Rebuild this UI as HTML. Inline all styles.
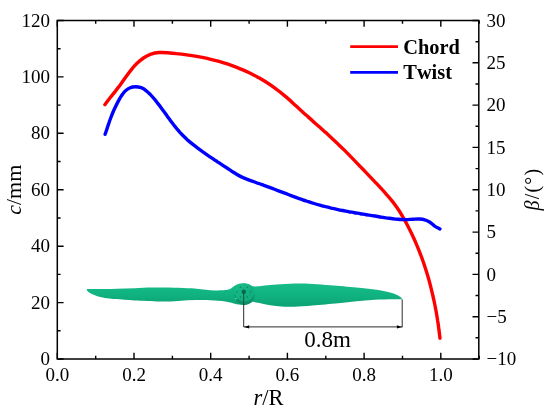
<!DOCTYPE html><html><head><meta charset="utf-8"><title>Chord and Twist</title>
<style>html,body{margin:0;padding:0;background:#fff}svg{display:block}text{font-family:"Liberation Serif",serif;fill:#000}</style></head><body>
<svg width="550" height="414" viewBox="0 0 550 414">
<rect width="550" height="414" fill="#fff"/>
<defs>
<linearGradient id="gb" x1="0" y1="0" x2="0" y2="1"><stop offset="0" stop-color="#17bc89"/><stop offset="0.5" stop-color="#10b380"/><stop offset="1" stop-color="#0ca273"/></linearGradient>
<linearGradient id="gh" x1="0" y1="0" x2="1" y2="1"><stop offset="0" stop-color="#19bd8b"/><stop offset="1" stop-color="#0fa878"/></linearGradient>
</defs>
<path d="M86.9 288.9 C88.8 288.9 93.3 289.1 98.2 289.1 C103.1 289.1 110.4 288.9 116.4 288.7 C122.5 288.5 128.4 288.4 134.5 288.2 C140.6 288.0 145.4 287.7 152.7 287.6 C160.0 287.5 170.9 287.6 178.2 287.8 C185.5 288.0 190.3 288.3 196.4 288.7 C202.5 289.1 209.7 290.2 214.5 290.4 C219.3 290.6 222.3 290.4 225.0 290.1 C227.7 289.8 228.8 289.4 230.5 288.7 C232.2 287.9 233.6 286.4 235.0 285.6 C236.4 284.8 237.5 284.2 239.0 283.8 C240.5 283.4 243.2 283.4 244.0 283.3 L244.0 305.2 C243.2 305.1 240.7 304.9 239.0 304.6 C237.3 304.3 235.8 303.8 234.0 303.4 C232.2 302.9 231.2 302.4 228.0 301.9 C224.8 301.4 219.8 300.8 214.5 300.5 C209.2 300.2 202.5 299.9 196.4 300.0 C190.3 300.1 184.3 300.6 178.2 300.9 C172.1 301.1 167.3 301.6 160.0 301.5 C152.7 301.4 141.8 300.9 134.5 300.5 C127.2 300.1 120.9 299.5 116.4 299.1 C111.9 298.7 110.3 298.6 107.3 298.2 C104.3 297.8 100.9 297.2 98.2 296.4 C95.5 295.6 92.8 294.6 90.9 293.6 C89.0 292.6 87.6 290.9 86.9 290.4 Z" fill="url(#gb)"/>
<path d="M244.0 283.3 C244.8 283.5 247.5 284.1 249.0 284.6 C250.5 285.1 251.5 286.0 253.0 286.3 C254.5 286.6 256.0 286.4 258.0 286.2 C260.0 286.0 261.9 285.7 265.0 285.4 C268.1 285.1 271.5 284.8 276.4 284.5 C281.3 284.2 288.4 283.7 294.5 283.6 C300.6 283.5 306.6 283.7 312.7 284.0 C318.8 284.3 323.6 284.7 330.9 285.3 C338.2 285.9 349.1 286.9 356.4 287.6 C363.7 288.3 369.1 288.8 374.5 289.6 C379.9 290.4 385.2 291.2 389.1 292.2 C393.1 293.2 396.0 294.4 398.2 295.5 C400.4 296.6 401.5 298.2 402.2 298.7 L402.2 299.3 C400.6 299.3 397.3 299.2 392.7 299.3 C388.1 299.4 380.6 299.5 374.5 299.8 C368.4 300.1 362.4 300.7 356.4 301.3 C350.3 301.9 345.5 302.6 338.2 303.3 C330.9 304.0 320.0 304.9 312.7 305.5 C305.4 306.1 299.0 306.5 294.5 306.7 C290.0 306.9 288.5 306.8 285.5 306.7 C282.5 306.6 279.4 306.3 276.4 306.0 C273.4 305.7 270.3 305.2 267.3 304.7 C264.3 304.2 260.8 303.3 258.2 302.8 C255.6 302.3 253.7 301.6 252.0 301.8 C250.3 302.0 249.3 303.4 248.0 304.0 C246.7 304.6 244.7 305.0 244.0 305.2 Z" fill="url(#gb)"/>
<ellipse cx="244.5" cy="295.2" rx="10" ry="9.9" fill="#0b9068"/>
<ellipse cx="244.6" cy="292.3" rx="9.9" ry="9.1" fill="url(#gh)"/>
<circle cx="250.8" cy="292.1" r="0.75" fill="#0a7d5c"/>
<circle cx="247.3" cy="297.0" r="0.75" fill="#0a7d5c"/>
<circle cx="240.5" cy="297.0" r="0.75" fill="#0a7d5c"/>
<circle cx="237.0" cy="292.1" r="0.75" fill="#0a7d5c"/>
<circle cx="240.4" cy="287.2" r="0.75" fill="#0a7d5c"/>
<circle cx="247.3" cy="287.2" r="0.75" fill="#0a7d5c"/>
<circle cx="243.8" cy="291.7" r="2.2" fill="#0a6a50"/>
<circle cx="235.8" cy="298.6" r="0.9" fill="#3fe8c0"/>
<g stroke="#2a2a2a" stroke-width="1" fill="none"><path d="M243.7 304 V327 M243.7 326.9 H402.2 M402.2 299.5 V327.3"/><path d="M243.7 292 V304.5" stroke="#07503a"/></g>
<path d="M244.2 326.9 l5 -1.6 v3.2 z M401.9 326.9 l-5 -1.6 v3.2 z" fill="#000"/>
<text x="327.5" y="347.3" font-size="23" text-anchor="middle">0.8m</text>
<path d="M104.9 104.7 C105.8 103.5 108.3 100.1 110.1 97.8 C111.9 95.5 113.7 93.3 115.5 91.1 C117.2 88.8 119.0 86.5 120.7 84.2 C122.4 81.9 124.1 79.5 125.8 77.1 C127.5 74.7 129.2 72.3 131.0 70.1 C132.8 67.8 134.7 65.6 136.8 63.6 C138.9 61.6 141.1 59.6 143.5 58.0 C145.8 56.4 148.3 55.0 151.0 54.1 C153.6 53.2 156.4 52.7 159.2 52.5 C162.0 52.3 164.9 52.5 167.8 52.7 C170.7 52.9 173.7 53.2 176.6 53.6 C179.5 53.9 182.3 54.2 185.2 54.6 C188.1 55.0 190.9 55.4 193.8 55.9 C196.6 56.4 199.5 56.9 202.3 57.4 C205.1 58.0 207.9 58.6 210.7 59.3 C213.5 60.0 216.3 60.7 219.1 61.4 C221.8 62.2 224.6 63.0 227.3 63.9 C230.1 64.8 232.8 65.8 235.5 66.8 C238.1 67.8 240.8 68.9 243.5 70.1 C246.1 71.2 248.7 72.5 251.3 73.7 C253.9 75.0 256.4 76.4 259.0 77.8 C261.5 79.3 264.0 80.8 266.4 82.3 C268.9 83.9 271.3 85.5 273.6 87.1 C276.0 88.8 278.3 90.6 280.5 92.3 C282.8 94.1 285.0 96.0 287.2 97.9 C289.4 99.8 291.5 101.7 293.6 103.7 C295.7 105.6 297.8 107.6 299.9 109.5 C302.1 111.4 304.2 113.4 306.4 115.3 C308.5 117.2 310.7 119.1 312.8 121.1 C315.0 123.0 317.1 124.9 319.3 126.8 C321.5 128.7 323.6 130.7 325.8 132.6 C327.9 134.5 330.0 136.5 332.1 138.4 C334.3 140.4 336.4 142.4 338.4 144.4 C340.5 146.4 342.6 148.4 344.6 150.4 C346.7 152.5 348.7 154.5 350.7 156.6 C352.7 158.6 354.7 160.7 356.7 162.8 C358.7 164.9 360.7 167.0 362.7 169.0 C364.7 171.1 366.7 173.2 368.7 175.3 C370.7 177.4 372.7 179.5 374.7 181.6 C376.7 183.7 378.7 185.7 380.6 187.9 C382.6 190.0 384.5 192.1 386.4 194.3 C388.3 196.4 390.2 198.6 392.0 200.9 C393.8 203.1 395.5 205.5 397.1 207.8 C398.8 210.2 400.3 212.6 401.8 215.1 C403.3 217.6 404.7 220.1 406.1 222.7 C407.5 225.2 408.8 227.8 410.1 230.4 C411.4 232.9 412.6 235.6 413.8 238.2 C415.0 240.8 416.1 243.5 417.2 246.1 C418.3 248.8 419.4 251.5 420.4 254.1 C421.5 256.8 422.4 259.5 423.4 262.3 C424.3 265.0 425.2 267.7 426.1 270.5 C427.0 273.2 427.8 276.0 428.6 278.8 C429.4 281.5 430.1 284.3 430.8 287.1 C431.5 289.9 432.2 292.7 432.8 295.5 C433.5 298.3 434.1 301.2 434.7 304.0 C435.2 306.8 435.8 309.7 436.3 312.5 C436.8 315.3 437.3 318.2 437.7 321.0 C438.2 323.9 438.6 326.8 438.9 329.6 C439.3 332.5 439.8 336.8 440.0 338.2" fill="none" stroke="#ff0000" stroke-width="3.4" stroke-linecap="round" stroke-linejoin="round"/>
<path d="M105.1 134.3 C105.4 133.4 106.4 130.6 107.0 128.7 C107.6 126.8 108.2 124.9 108.9 123.1 C109.5 121.2 110.2 119.3 110.9 117.5 C111.6 115.6 112.3 113.8 113.1 112.0 C113.8 110.2 114.7 108.4 115.5 106.7 C116.4 104.9 117.3 103.1 118.2 101.4 C119.1 99.7 120.1 97.9 121.2 96.2 C122.3 94.6 123.4 92.8 124.8 91.4 C126.2 90.0 127.8 88.7 129.6 88.0 C131.4 87.2 133.6 86.7 135.5 86.7 C137.5 86.7 139.4 87.1 141.1 87.7 C142.9 88.4 144.5 89.4 146.0 90.6 C147.6 91.7 149.0 93.2 150.4 94.6 C151.8 96.0 153.2 97.6 154.5 99.2 C155.8 100.7 157.0 102.3 158.2 103.9 C159.5 105.5 160.7 107.1 161.8 108.7 C163.0 110.3 164.2 111.9 165.4 113.5 C166.5 115.1 167.7 116.7 168.8 118.3 C170.0 119.9 171.1 121.4 172.3 123.0 C173.5 124.6 174.7 126.1 175.9 127.6 C177.2 129.1 178.4 130.6 179.7 132.1 C181.0 133.5 182.3 135.0 183.7 136.3 C185.1 137.7 186.6 139.1 188.0 140.4 C189.5 141.7 191.1 143.0 192.6 144.2 C194.2 145.5 195.8 146.7 197.4 147.9 C199.0 149.0 200.6 150.2 202.2 151.4 C203.8 152.5 205.5 153.6 207.1 154.8 C208.7 155.9 210.3 157.0 212.0 158.1 C213.6 159.2 215.2 160.3 216.8 161.3 C218.4 162.4 220.1 163.5 221.7 164.6 C223.3 165.7 225.0 166.8 226.6 167.8 C228.3 168.9 229.9 170.0 231.6 171.1 C233.3 172.2 234.9 173.3 236.6 174.3 C238.3 175.3 240.1 176.3 241.9 177.1 C243.6 178.0 245.4 178.7 247.3 179.4 C249.1 180.2 251.0 180.8 252.8 181.4 C254.7 182.1 256.6 182.7 258.4 183.4 C260.3 184.0 262.1 184.7 264.0 185.4 C265.8 186.0 267.7 186.7 269.5 187.4 C271.4 188.1 273.2 188.8 275.1 189.5 C276.9 190.2 278.8 190.9 280.6 191.6 C282.5 192.3 284.3 193.0 286.2 193.7 C288.0 194.4 289.9 195.1 291.7 195.8 C293.6 196.5 295.4 197.2 297.3 197.9 C299.1 198.5 301.0 199.2 302.8 199.8 C304.7 200.5 306.6 201.1 308.4 201.7 C310.3 202.3 312.2 202.9 314.1 203.5 C316.0 204.1 317.9 204.6 319.8 205.1 C321.7 205.7 323.6 206.2 325.5 206.7 C327.4 207.1 329.3 207.6 331.2 208.1 C333.1 208.5 335.1 208.9 337.0 209.3 C338.9 209.8 340.8 210.2 342.8 210.5 C344.7 210.9 346.7 211.3 348.6 211.7 C350.5 212.0 352.5 212.4 354.4 212.7 C356.4 213.0 358.3 213.4 360.3 213.7 C362.2 214.0 364.2 214.4 366.1 214.7 C368.1 215.0 370.0 215.3 372.0 215.6 C373.9 215.9 375.9 216.2 377.8 216.5 C379.7 216.9 381.7 217.2 383.6 217.5 C385.6 217.8 387.5 218.1 389.5 218.3 C391.4 218.6 393.4 218.9 395.3 219.1 C397.3 219.2 399.2 219.4 401.2 219.5 C403.2 219.6 405.1 219.6 407.1 219.6 C409.1 219.5 411.1 219.3 413.1 219.2 C415.1 219.1 417.1 218.9 419.1 219.0 C421.0 219.1 423.0 219.2 424.8 219.8 C426.7 220.3 428.4 221.3 430.0 222.3 C431.7 223.4 433.1 225.0 434.7 226.1 C436.4 227.2 439.0 228.4 439.9 228.9" fill="none" stroke="#0000ff" stroke-width="3.4" stroke-linecap="round" stroke-linejoin="round"/>
<g stroke="#000" stroke-width="1.5" fill="none" stroke-linecap="square">
<rect x="57.3" y="20.5" width="421.5" height="338.5"/>
</g>
<g stroke="#000" stroke-width="1.4" fill="none">
<path d="M57.3 359.0 h6.3 M57.3 330.8 h3.3 M57.3 302.6 h6.3 M57.3 274.4 h3.3 M57.3 246.2 h6.3 M57.3 218.0 h3.3 M57.3 189.8 h6.3 M57.3 161.5 h3.3 M57.3 133.3 h6.3 M57.3 105.1 h3.3 M57.3 76.9 h6.3 M57.3 48.7 h3.3 M57.3 20.5 h6.3 M478.8 359.0 h-6.3 M478.8 337.8 h-3.3 M478.8 316.7 h-6.3 M478.8 295.5 h-3.3 M478.8 274.4 h-6.3 M478.8 253.2 h-3.3 M478.8 232.1 h-6.3 M478.8 210.9 h-3.3 M478.8 189.8 h-6.3 M478.8 168.6 h-3.3 M478.8 147.4 h-6.3 M478.8 126.3 h-3.3 M478.8 105.1 h-6.3 M478.8 84.0 h-3.3 M478.8 62.8 h-6.3 M478.8 41.7 h-3.3 M478.8 20.5 h-6.3 M57.3 359.0 v-6.3 M57.3 20.5 v6.3 M95.7 359.0 v-3.3 M95.7 20.5 v3.3 M134.0 359.0 v-6.3 M134.0 20.5 v6.3 M172.4 359.0 v-3.3 M172.4 20.5 v3.3 M210.7 359.0 v-6.3 M210.7 20.5 v6.3 M249.1 359.0 v-3.3 M249.1 20.5 v3.3 M287.4 359.0 v-6.3 M287.4 20.5 v6.3 M325.8 359.0 v-3.3 M325.8 20.5 v3.3 M364.1 359.0 v-6.3 M364.1 20.5 v6.3 M402.5 359.0 v-3.3 M402.5 20.5 v3.3 M440.8 359.0 v-6.3 M440.8 20.5 v6.3 M479.2 359.0 v-3.3 M479.2 20.5 v3.3 "/>
</g>
<g font-size="19.0">
<text x="50" y="365.1" text-anchor="end">0</text>
<text x="50" y="308.7" text-anchor="end">20</text>
<text x="50" y="252.3" text-anchor="end">40</text>
<text x="50" y="195.8" text-anchor="end">60</text>
<text x="50" y="139.4" text-anchor="end">80</text>
<text x="50" y="83.0" text-anchor="end">100</text>
<text x="50" y="26.6" text-anchor="end">120</text>
<text x="486.5" y="365.1">−10</text>
<text x="486.5" y="322.8">−5</text>
<text x="486.5" y="280.5">0</text>
<text x="486.5" y="238.2">5</text>
<text x="486.5" y="195.8">10</text>
<text x="486.5" y="153.5">15</text>
<text x="486.5" y="111.2">20</text>
<text x="486.5" y="68.9">25</text>
<text x="486.5" y="26.6">30</text>
<text x="57.3" y="381.3" text-anchor="middle">0.0</text>
<text x="134.0" y="381.3" text-anchor="middle">0.2</text>
<text x="210.7" y="381.3" text-anchor="middle">0.4</text>
<text x="287.4" y="381.3" text-anchor="middle">0.6</text>
<text x="364.1" y="381.3" text-anchor="middle">0.8</text>
<text x="440.8" y="381.3" text-anchor="middle">1.0</text>
</g>
<text x="268.5" y="405.2" font-size="22.5" text-anchor="middle"><tspan font-style="italic">r</tspan>/R</text>
<text transform="translate(20.9 189.8) rotate(-90)" font-size="22" text-anchor="middle"><tspan font-style="italic">c</tspan>/mm</text>
<text transform="translate(539.2 189.1) rotate(-90)" font-size="20" letter-spacing="1.2" text-anchor="middle"><tspan font-style="italic">β</tspan>/(°)</text>
<path d="M350.2 46.6 H398" stroke="#ff0000" stroke-width="2.8" fill="none"/>
<path d="M350.2 72.4 H398" stroke="#0000ff" stroke-width="2.8" fill="none"/>
<text x="403.3" y="53.5" font-size="20.4" font-weight="bold">Chord</text>
<text x="403.3" y="79.3" font-size="20.4" font-weight="bold" style="font-kerning:none">Twist</text>
</svg></body></html>
